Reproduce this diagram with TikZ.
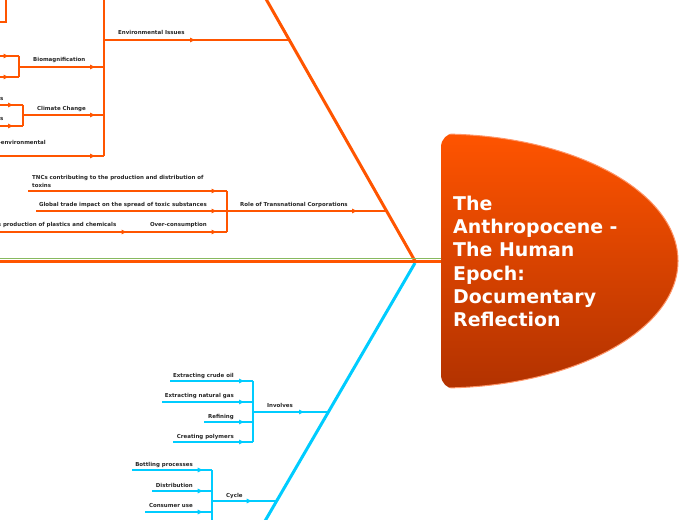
\documentclass[tikz,border=0pt]{standalone}
\usepackage{fontspec}
\setmainfont{DejaVu Sans}
\usetikzlibrary{arrows.meta,decorations.markings}

\definecolor{fishorange}{RGB}{255,85,0}
\definecolor{fishcyan}{RGB}{0,204,255}
\definecolor{spinegreen}{RGB}{135,185,95}
\definecolor{topiclight}{RGB}{255,84,0}
\definecolor{topicdark}{RGB}{178,50,0}
\definecolor{topicrim}{RGB}{255,150,105}

\begin{document}
\begin{tikzpicture}
	[x=1bp,y=-1bp,
		bone/.style={line width=3bp},
		twig/.style={line width=1.8bp},
		arrowat/.style={postaction={decorate},decoration={markings,mark=at position #1 with {\arrow{Triangle[length=5bp,width=4.5bp]}}}},
		lbl/.style={font=\fontsize{5.5}{7.5}\selectfont\bfseries,inner sep=0pt,text=black!85}]

	\useasboundingbox (0,0) rectangle (697,520);
	\clip (0,0) rectangle (697,520);

	% fish bones
	\coordinate (head) at (415,261);
	\coordinate (otop) at (266,-1);
	\coordinate (chead) at (415,263);
	\coordinate (cbot) at (265,521);
	\coordinate (tail) at (-2,261);
	\coordinate (tailg) at (-2,258.6);
	\coordinate (headg) at (445,258.6);
	\coordinate (heads) at (445,261.5);

	\draw[bone, fishorange] (otop) -- (head);
	\draw[bone, fishcyan] (chead) -- (cbot);
	\draw[spinegreen, line width=1bp] (tailg) -- (headg);
	\draw[fishorange, line width=3.6bp] (tail |- heads) -- (heads);

	% central topic
	\begin{scope}
		\clip (440,261) ellipse [x radius=238bp, y radius=127bp];
		\shade[top color=topiclight, bottom color=topicdark, rounded corners=14bp] (441,133) rectangle (700,389);
	\end{scope}
	\begin{scope}
		\clip[rounded corners=14bp] (441,133) rectangle (700,389);
		\draw[topicrim, line width=1bp] (440,261) ellipse [x radius=238bp, y radius=127bp];
	\end{scope}
	\node[anchor=north west, inner sep=0pt, align=left, text=white,
		font=\fontsize{19}{23.4}\selectfont\bfseries] (central) at (453,195.5)
		{The\\Anthropocene -\\The Human\\Epoch:\\Documentary\\Reflection};

	% orange side
	\coordinate (envt) at (104,-2);
	\coordinate (envd) at (104,156);
	\coordinate (envb) at (104,40);
	\coordinate (envh) at (288.9,40);
	\coordinate (topb) at (6,-2);
	\coordinate (topc) at (-2,22);
	\coordinate (bioa) at (19,56);
	\coordinate (bioz) at (19,77);
	\coordinate (biob) at (19,67);
	\coordinate (bio1) at (0,56);
	\coordinate (bio2) at (0,77);
	\coordinate (clia) at (23,105);
	\coordinate (cliz) at (23,126);
	\coordinate (clib) at (23,115);
	\coordinate (cli1) at (0,105);
	\coordinate (cli2) at (0,126);
	\coordinate (soc0) at (0,156);
	\coordinate (rolea) at (227,191);
	\coordinate (rolez) at (227,232);
	\coordinate (roleb) at (227,211);
	\coordinate (roleh) at (385.8,211);
	\coordinate (tnc0) at (28,191);
	\coordinate (glo0) at (36,211);
	\coordinate (ovb) at (145,232);
	\coordinate (pla0) at (0,232);

	\node[lbl, anchor=base west] (env) at (118,35) {Environmental Issues};
	\node[lbl, anchor=base west] (bio) at (33,62) {Biomagnification};
	\node[lbl, anchor=base west] (cli) at (37,111) {Climate Change};
	\node[lbl, anchor=base east] (cli1l) at (3.5,100.5) {s};
	\node[lbl, anchor=base east] (cli2l) at (3.5,121) {s};
	\node[lbl, anchor=base east] (soc) at (46,145) {-environmental};
	\node[lbl, anchor=base west] (role) at (240,206.5) {Role of Transnational Corporations};
	\node[lbl, anchor=north west, align=left] (tnc) at (32,175.5)
		{TNCs contributing to the production and distribution of\\toxins};
	\node[lbl, anchor=base east] (glo) at (207,206.5) {Global trade impact on the spread of toxic substances};
	\node[lbl, anchor=base east] (over) at (207,226.5) {Over-consumption};
	\node[lbl, anchor=base east] (pla) at (116.5,226.5) {s production of plastics and chemicals};

	\path[twig, fishorange]
	(envt) edge (envd)
	(envb) edge [arrowat=91bp]  (envh)
	(topb) edge [to path={|- (\tikztotarget)}] (topc)
	(bioa) edge (bioz)
	(biob) edge [arrowat=76bp]  (envb |- biob)
	(bio1) edge [arrowat=8.5bp]  (bioa)
	(bio2) edge [arrowat=8.5bp]  (bioz)
	(clia) edge (cliz)
	(clib) edge [arrowat=72bp]  (envb |- clib)
	(cli1) edge [arrowat=13bp]  (clia)
	(cli2) edge [arrowat=13bp]  (cliz)
	(soc0) edge [arrowat=95bp]  (envd)
	(rolea) edge (rolez)
	(roleb) edge [arrowat=130bp]  (roleh)
	(tnc0) edge [arrowat=188.5bp]  (rolea)
	(glo0) edge [arrowat=180.5bp]  (roleb)
	(ovb) edge [arrowat=71.5bp]  (rolez)
	(pla0) edge [arrowat=126.5bp]  (ovb)
	;

	% cyan side
	\coordinate (inva) at (253,381);
	\coordinate (invz) at (253,442);
	\coordinate (invb) at (253,412);
	\coordinate (invh) at (328,412);
	\coordinate (crude0) at (170,381);
	\coordinate (gas0) at (162,402);
	\coordinate (ref0) at (204,422);
	\coordinate (poly0) at (173,442);
	\coordinate (cyca) at (212,470);
	\coordinate (cycz) at (212,525);
	\coordinate (cycb) at (212,501);
	\coordinate (cych) at (276.2,501);
	\coordinate (bot0) at (132,470);
	\coordinate (dis0) at (152,491);
	\coordinate (con0) at (145,512);

	\node[lbl, anchor=base west] (inv) at (267,407.5) {Involves};
	\node[lbl, anchor=base east] (crude) at (234,377.5) {Extracting crude oil};
	\node[lbl, anchor=base east] (gas) at (234,397.8) {Extracting natural gas};
	\node[lbl, anchor=base east] (ref) at (234,418.3) {Refining};
	\node[lbl, anchor=base east] (poly) at (234,438.5) {Creating polymers};
	\node[lbl, anchor=base west] (cyc) at (226,497.3) {Cycle};
	\node[lbl, anchor=base east] (bot) at (193,466.3) {Bottling processes};
	\node[lbl, anchor=base east] (dis) at (193,487.2) {Distribution};
	\node[lbl, anchor=base east] (con) at (193,507.8) {Consumer use};

	\path[twig, fishcyan]
	(inva) edge (invz)
	(invb) edge [arrowat=51bp]  (invh)
	(crude0) edge [arrowat=74bp]  (inva)
	(gas0) edge [arrowat=82bp]  (inva |- gas0)
	(ref0) edge [arrowat=40bp]  (inva |- ref0)
	(poly0) edge [arrowat=71bp]  (invz)
	(cyca) edge (cycz)
	(cycb) edge [arrowat=39.7bp]  (cych)
	(bot0) edge [arrowat=70.7bp]  (cyca)
	(dis0) edge [arrowat=50.7bp]  (cyca |- dis0)
	(con0) edge [arrowat=57.7bp]  (cyca |- con0)
	;

\end{tikzpicture}
\end{document}
